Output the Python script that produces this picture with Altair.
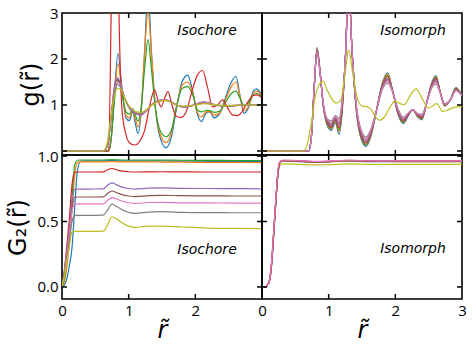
import altair as alt
import pandas as pd

NAMES = ["s1", "s2", "s3", "s4", "s5", "s6", "s7", "s8", "s9"]
COLORS = ["#1f77b4", "#ff7f0e", "#2ca02c", "#d62728", "#9467bd",
          "#8c564b", "#e377c2", "#7f7f7f", "#bcbd22"]

# ---------------- top-left: g(r) along the isochore ----------------
R_TC = [0, 0.70, 0.74, 0.78, 0.84, 0.90, 0.96, 1.01, 1.06, 1.10, 1.14, 1.19, 1.24, 1.29,
        1.34, 1.40, 1.47, 1.56, 1.64, 1.72, 1.80, 1.885, 1.96, 2.03, 2.09, 2.16, 2.22,
        2.28, 2.36, 2.45, 2.54, 2.61, 2.67, 2.73, 2.80, 2.87, 2.92, 3.0]
G_TC_BLUE = [0, 0, 0.3, 1.1, 2.12, 1.35, 0.72, 0.66, 0.85, 0.6, 0.38, 0.9, 2.2, 3.5, 2.2,
             0.95, 0.3, 0.07, 0.3, 0.95, 1.5, 1.65, 1.3, 0.8, 0.64, 0.82, 0.85, 0.72, 0.8,
             1.15, 1.5, 1.62, 1.2, 0.82, 0.95, 1.3, 1.35, 1.2]
G_TC_ORANGE = [0, 0, 0.3, 1.05, 1.9, 1.3, 0.78, 0.72, 0.88, 0.7, 0.52, 0.95, 2.15, 3.05,
               2.15, 0.95, 0.38, 0.18, 0.4, 0.98, 1.42, 1.5, 1.25, 0.85, 0.74, 0.85, 0.86,
               0.78, 0.82, 1.1, 1.4, 1.5, 1.2, 0.88, 0.98, 1.25, 1.3, 1.2]
G_TC_GREEN = [0, 0, 0.3, 1.0, 1.55, 1.25, 0.85, 0.8, 0.92, 0.78, 0.65, 0.98, 1.8, 2.42,
              1.8, 0.95, 0.45, 0.31, 0.45, 0.98, 1.36, 1.40, 1.22, 0.9, 0.85, 0.88, 0.88,
              0.84, 0.86, 1.05, 1.25, 1.3, 1.15, 0.98, 1.05, 1.22, 1.25, 1.18]
R_TC_RED = [0, 0.70, 0.74, 0.78, 0.82, 0.86, 0.90, 0.96, 1.02, 1.09, 1.16, 1.24, 1.31,
            1.39, 1.44, 1.49, 1.54, 1.59, 1.65, 1.71, 1.78, 1.86, 1.95, 2.03, 2.11, 2.18,
            2.26, 2.33, 2.41, 2.48, 2.56, 2.63, 2.70, 2.78, 2.86, 2.93, 3.0]
G_TC_RED = [0, 0, 3.2, 6, 6, 2.6, 0.9, 0.35, 0.17, 0.13, 0.2, 0.45, 0.95, 1.33, 1.1,
            0.96, 1.15, 1.29, 1.0, 0.76, 0.73, 0.85, 1.3, 1.65, 1.75, 1.4, 0.96, 1.0,
            1.11, 0.95, 0.78, 0.77, 0.85, 1.05, 1.2, 1.22, 1.15]
R_TL = [0, 0.62, 0.68, 0.73, 0.78, 0.83, 0.88, 0.94, 1.00, 1.06, 1.12, 1.19, 1.27, 1.36,
        1.45, 1.54, 1.63, 1.72, 1.82, 1.92, 2.02, 2.12, 2.22, 2.34, 2.46, 2.58, 2.70,
        2.82, 2.94, 3.0]
G_TL_PURPLE = [0, 0, 0.1, 0.6, 1.35, 1.6, 1.45, 1.15, 0.95, 0.85, 0.8, 0.78, 0.88, 1.02,
               1.1, 1.12, 1.08, 1.0, 0.95, 0.97, 1.02, 1.07, 1.04, 0.99, 0.97, 0.98, 1.0,
               1.01, 1.0, 1.0]
G_TL_BROWN = [0, 0, 0.12, 0.62, 1.3, 1.55, 1.43, 1.15, 0.96, 0.86, 0.81, 0.8, 0.89, 1.02,
              1.09, 1.11, 1.07, 1.0, 0.96, 0.97, 1.02, 1.06, 1.03, 0.99, 0.97, 0.98, 1.0,
              1.01, 1.0, 1.0]
G_TL_PINK = [0, 0, 0.13, 0.64, 1.27, 1.5, 1.41, 1.15, 0.97, 0.87, 0.82, 0.81, 0.89, 1.02,
             1.09, 1.11, 1.07, 1.0, 0.96, 0.98, 1.02, 1.05, 1.03, 0.99, 0.98, 0.99, 1.0,
             1.01, 1.0, 1.0]
G_TL_GRAY = [0, 0, 0.15, 0.66, 1.22, 1.45, 1.38, 1.15, 0.98, 0.88, 0.83, 0.82, 0.9, 1.02,
             1.08, 1.1, 1.06, 1.0, 0.97, 0.98, 1.01, 1.04, 1.02, 0.99, 0.98, 0.99, 1.0,
             1.0, 1.0, 1.0]
G_TL_OLIVE = [0, 0, 0.18, 0.7, 1.15, 1.36, 1.35, 1.15, 0.99, 0.9, 0.85, 0.84, 0.9, 1.01,
              1.08, 1.1, 1.06, 1.0, 0.97, 0.98, 1.0, 1.03, 1.02, 1.0, 0.98, 0.99, 1.0,
              1.0, 1.0, 1.0]

# ---------------- top-right: g(r) along the isomorph ----------------
R_TM = [0, 0.70, 0.74, 0.78, 0.825, 0.87, 0.92, 0.98, 1.04, 1.10, 1.155, 1.20, 1.25, 1.30,
        1.35, 1.42, 1.49, 1.56, 1.64, 1.72, 1.80, 1.885, 1.96, 2.04, 2.12, 2.20, 2.26,
        2.33, 2.40, 2.47, 2.55, 2.61, 2.67, 2.74, 2.82, 2.91, 3.0]
G_TM_BLUE = [0, 0, 0.3, 1.3, 2.25, 1.75, 0.95, 0.55, 0.45, 0.62, 0.36, 0.8, 2.0, 3.6, 2.2,
             0.8, 0.25, 0.1, 0.35, 0.9, 1.45, 1.7, 1.3, 0.8, 0.6, 0.78, 0.9, 0.75, 0.68,
             1.05, 1.5, 1.64, 1.3, 0.98, 1.1, 1.38, 1.2]
G_TM_ORANGE = [0, 0, 0.3, 1.3, 2.22, 1.75, 0.97, 0.58, 0.48, 0.65, 0.42, 0.85, 2.0, 3.6,
               2.2, 0.82, 0.28, 0.13, 0.38, 0.9, 1.43, 1.67, 1.3, 0.82, 0.62, 0.8, 0.9,
               0.76, 0.7, 1.05, 1.48, 1.62, 1.3, 0.98, 1.1, 1.37, 1.2]
G_TM_GREEN = [0, 0, 0.3, 1.3, 2.2, 1.73, 0.98, 0.6, 0.5, 0.66, 0.46, 0.88, 2.0, 3.6, 2.2,
              0.84, 0.3, 0.14, 0.4, 0.9, 1.42, 1.64, 1.3, 0.83, 0.63, 0.8, 0.9, 0.77,
              0.71, 1.05, 1.47, 1.6, 1.3, 0.99, 1.1, 1.36, 1.2]
G_TM_RED = [0, 0, 0.3, 1.3, 2.2, 1.73, 0.99, 0.62, 0.52, 0.68, 0.5, 0.92, 2.0, 3.6, 2.2,
            0.86, 0.33, 0.17, 0.42, 0.9, 1.4, 1.62, 1.3, 0.84, 0.65, 0.8, 0.9, 0.78,
            0.72, 1.05, 1.46, 1.58, 1.3, 1.0, 1.1, 1.35, 1.2]
G_TM_PURPLE = [0, 0, 0.3, 1.3, 2.18, 1.72, 1.0, 0.64, 0.55, 0.7, 0.55, 0.97, 2.0, 3.6,
               2.2, 0.88, 0.36, 0.2, 0.44, 0.9, 1.38, 1.58, 1.3, 0.86, 0.67, 0.81, 0.9,
               0.79, 0.74, 1.05, 1.44, 1.55, 1.3, 1.0, 1.1, 1.34, 1.2]
G_TM_BROWN = [0, 0, 0.3, 1.3, 2.18, 1.72, 1.01, 0.66, 0.58, 0.72, 0.6, 1.0, 2.0, 3.6,
              2.2, 0.9, 0.39, 0.23, 0.46, 0.9, 1.36, 1.55, 1.29, 0.88, 0.69, 0.82, 0.9,
              0.8, 0.76, 1.05, 1.42, 1.52, 1.29, 1.01, 1.1, 1.33, 1.2]
G_TM_PINK = [0, 0, 0.3, 1.3, 2.16, 1.7, 1.02, 0.68, 0.62, 0.75, 0.66, 1.05, 2.0, 3.6,
             2.2, 0.92, 0.42, 0.27, 0.48, 0.9, 1.34, 1.52, 1.28, 0.9, 0.71, 0.83, 0.9,
             0.81, 0.78, 1.05, 1.4, 1.5, 1.28, 1.02, 1.1, 1.32, 1.2]
G_TM_GRAY = [0, 0, 0.3, 1.3, 2.16, 1.7, 1.03, 0.7, 0.65, 0.77, 0.7, 1.08, 2.0, 3.6, 2.2,
             0.94, 0.45, 0.3, 0.5, 0.9, 1.32, 1.48, 1.27, 0.92, 0.73, 0.84, 0.9, 0.82,
             0.8, 1.05, 1.38, 1.46, 1.27, 1.03, 1.1, 1.31, 1.2]
R_TM_OLIVE = [0, 0.62, 0.68, 0.74, 0.80, 0.86, 0.915, 0.97, 1.04, 1.11, 1.18, 1.24, 1.30,
              1.36, 1.43, 1.50, 1.58, 1.64, 1.70, 1.77, 1.84, 1.92, 1.99, 2.06, 2.13,
              2.22, 2.31, 2.40, 2.50, 2.56, 2.62, 2.71, 2.80, 2.88, 3.0]
G_TM_OLIVE = [0, 0, 0.15, 0.6, 1.2, 1.45, 1.52, 1.35, 1.15, 1.04, 1.1, 1.6, 2.2, 1.7,
              1.15, 0.98, 0.96, 0.9, 0.75, 0.67, 0.75, 0.95, 1.08, 1.04, 1.0, 1.2, 1.35,
              1.15, 0.93, 0.98, 1.03, 0.86, 0.9, 0.95, 0.97]

# ---------------- bottom-left: G2(r) along the isochore ----------------
R_BC = [0, 0.03, 0.07, 0.11, 0.15, 0.19, 0.23, 0.28, 0.4, 0.62, 0.68, 0.75, 0.82, 0.9,
        1.0, 1.1, 1.3, 1.5, 1.8, 2.2, 2.6, 3.0]
G2_BC_BLUE = [0, 0.01, 0.06, 0.16, 0.3, 0.6, 0.88, 0.962, 0.963, 0.963, 0.964, 0.965,
              0.964, 0.963, 0.963, 0.963, 0.963, 0.962, 0.961, 0.96, 0.959, 0.958]
G2_BC_ORANGE = [0, 0.03, 0.14, 0.34, 0.58, 0.85, 0.95, 0.955, 0.955, 0.955, 0.956, 0.957,
                0.956, 0.955, 0.955, 0.955, 0.955, 0.954, 0.953, 0.952, 0.951, 0.95]
G2_BC_GREEN = [0, 0.05, 0.2, 0.42, 0.68, 0.93, 0.968, 0.97, 0.97, 0.97, 0.971, 0.972,
               0.971, 0.97, 0.97, 0.97, 0.97, 0.969, 0.968, 0.967, 0.966, 0.965]
G2_BC_RED = [0, 0.1, 0.3, 0.52, 0.78, 0.875, 0.878, 0.878, 0.878, 0.879, 0.895, 0.905,
             0.895, 0.885, 0.88, 0.878, 0.879, 0.88, 0.879, 0.878, 0.878, 0.878]
G2_BC_PURPLE = [0, 0.1, 0.27, 0.45, 0.65, 0.745, 0.748, 0.748, 0.748, 0.749, 0.775, 0.795,
                0.78, 0.763, 0.752, 0.748, 0.755, 0.757, 0.753, 0.752, 0.751, 0.75]
G2_BC_BROWN = [0, 0.09, 0.25, 0.42, 0.6, 0.685, 0.687, 0.687, 0.687, 0.688, 0.712, 0.733,
               0.72, 0.705, 0.695, 0.69, 0.697, 0.7, 0.697, 0.696, 0.695, 0.695]
G2_BC_PINK = [0, 0.09, 0.24, 0.4, 0.58, 0.632, 0.634, 0.634, 0.634, 0.635, 0.66, 0.683,
              0.672, 0.655, 0.643, 0.638, 0.645, 0.646, 0.643, 0.642, 0.641, 0.64]
G2_BC_GRAY = [0, 0.08, 0.21, 0.35, 0.5, 0.545, 0.547, 0.547, 0.547, 0.548, 0.585, 0.632,
              0.615, 0.59, 0.57, 0.562, 0.572, 0.575, 0.57, 0.568, 0.567, 0.567]
G2_BC_OLIVE = [0, 0.07, 0.19, 0.31, 0.42, 0.425, 0.425, 0.425, 0.425, 0.427, 0.47, 0.535,
               0.52, 0.49, 0.465, 0.455, 0.465, 0.465, 0.458, 0.45, 0.447, 0.445]

# ---------------- bottom-right: G2(r) along the isomorph ----------------
R_BM = [0, 0.05, 0.09, 0.12, 0.15, 0.18, 0.21, 0.24, 0.27, 0.32, 0.5, 0.8, 1.0, 1.3, 1.6,
        2.0, 2.5, 3.0]
G2_BM_BLUE = [0, 0, 0.02, 0.06, 0.2, 0.43, 0.66, 0.86, 0.95, 0.962, 0.96, 0.952, 0.955,
              0.962, 0.958, 0.957, 0.957, 0.957]
G2_BM_ORANGE = [0, 0, 0.02, 0.06, 0.21, 0.44, 0.67, 0.87, 0.952, 0.963, 0.961, 0.953,
                0.956, 0.963, 0.959, 0.958, 0.958, 0.958]
G2_BM_GREEN = [0, 0, 0.02, 0.07, 0.21, 0.44, 0.67, 0.87, 0.953, 0.964, 0.962, 0.954,
               0.957, 0.964, 0.96, 0.959, 0.959, 0.959]
G2_BM_RED = [0, 0, 0.02, 0.07, 0.22, 0.45, 0.68, 0.88, 0.956, 0.967, 0.965, 0.958, 0.96,
             0.967, 0.963, 0.962, 0.962, 0.962]
G2_BM_PURPLE = [0, 0, 0.02, 0.07, 0.22, 0.45, 0.68, 0.88, 0.956, 0.966, 0.964, 0.957,
                0.959, 0.966, 0.962, 0.961, 0.961, 0.961]
G2_BM_BROWN = [0, 0, 0.02, 0.07, 0.22, 0.45, 0.68, 0.88, 0.955, 0.965, 0.963, 0.956,
               0.958, 0.965, 0.961, 0.96, 0.96, 0.96]
G2_BM_PINK = [0, 0, 0.02, 0.07, 0.23, 0.46, 0.69, 0.89, 0.958, 0.968, 0.966, 0.959,
              0.961, 0.968, 0.964, 0.963, 0.963, 0.963]
G2_BM_GRAY = [0, 0, 0.02, 0.07, 0.22, 0.45, 0.68, 0.88, 0.955, 0.965, 0.963, 0.956,
              0.958, 0.965, 0.961, 0.96, 0.96, 0.96]
G2_BM_OLIVE = [0, 0, 0.03, 0.08, 0.23, 0.46, 0.68, 0.86, 0.93, 0.94, 0.938, 0.932,
               0.934, 0.94, 0.937, 0.936, 0.936, 0.936]

XTICKS = [1, 2]
TOP_YTICKS = [0, 1, 2]
BOT_YTICKS = [0, 0.5, 1.0]
TOP_YLABELS = [1, 2, 3]
BOT_YLABELS = [0, 0.5, 1.0]
LEFT_XLABELS = [0, 1, 2]
RIGHT_XLABELS = [0, 1, 2, 3]


def frame(series):
    rows = []
    for name, rs, vs in series:
        for r, v in zip(rs, vs):
            rows.append({"r": r, "v": v, "s": name})
    return pd.DataFrame(rows)


TL = frame([("s1", R_TC, G_TC_BLUE), ("s2", R_TC, G_TC_ORANGE), ("s3", R_TC, G_TC_GREEN),
            ("s4", R_TC_RED, G_TC_RED), ("s5", R_TL, G_TL_PURPLE), ("s6", R_TL, G_TL_BROWN),
            ("s7", R_TL, G_TL_PINK), ("s8", R_TL, G_TL_GRAY), ("s9", R_TL, G_TL_OLIVE)])
TR = frame([("s1", R_TM, G_TM_BLUE), ("s2", R_TM, G_TM_ORANGE), ("s3", R_TM, G_TM_GREEN),
            ("s4", R_TM, G_TM_RED), ("s5", R_TM, G_TM_PURPLE), ("s6", R_TM, G_TM_BROWN),
            ("s8", R_TM, G_TM_GRAY), ("s7", R_TM, G_TM_PINK), ("s9", R_TM_OLIVE, G_TM_OLIVE)])
BL = frame([("s1", R_BC, G2_BC_BLUE), ("s2", R_BC, G2_BC_ORANGE), ("s3", R_BC, G2_BC_GREEN),
            ("s4", R_BC, G2_BC_RED), ("s5", R_BC, G2_BC_PURPLE), ("s6", R_BC, G2_BC_BROWN),
            ("s7", R_BC, G2_BC_PINK), ("s8", R_BC, G2_BC_GRAY), ("s9", R_BC, G2_BC_OLIVE)])
BR = frame([("s9", R_BM, G2_BM_OLIVE), ("s1", R_BM, G2_BM_BLUE), ("s2", R_BM, G2_BM_ORANGE),
            ("s3", R_BM, G2_BM_GREEN), ("s5", R_BM, G2_BM_PURPLE), ("s6", R_BM, G2_BM_BROWN),
            ("s8", R_BM, G2_BM_GRAY), ("s4", R_BM, G2_BM_RED), ("s7", R_BM, G2_BM_PINK)])

W = 200
LABEL_FONT = "Open Sans"


def panel(df, H, ydom, yticks, xaxis, yaxis, label, lx, ly):
    xs = alt.Scale(domain=[0, 3], nice=False, zero=False)
    ys = alt.Scale(domain=ydom, nice=False, zero=False)
    xenc = alt.X("r:Q", scale=xs, axis=xaxis) if xaxis is not None else alt.X("r:Q", scale=xs, axis=None)
    yenc = alt.Y("v:Q", scale=ys, axis=yaxis) if yaxis is not None else alt.Y("v:Q", scale=ys, axis=None)
    lines = alt.Chart(df).mark_line(clip=True, strokeWidth=1.2, interpolate="monotone").encode(
        x=xenc, y=yenc,
        color=alt.Color("s:N", scale=alt.Scale(domain=NAMES, range=COLORS), legend=None),
    )
    xt = pd.DataFrame({"r": XTICKS})
    yt = pd.DataFrame({"v": yticks})
    tick = dict(color="black", strokeWidth=1.5)
    t1 = alt.Chart(xt).mark_rule(**tick).encode(x=xenc, y=alt.value(0), y2=alt.value(5))
    t2 = alt.Chart(xt).mark_rule(**tick).encode(x=xenc, y=alt.value(H - 5), y2=alt.value(H))
    t3 = alt.Chart(yt).mark_rule(**tick).encode(y=yenc, x=alt.value(0), x2=alt.value(5))
    t4 = alt.Chart(yt).mark_rule(**tick).encode(y=yenc, x=alt.value(W - 5), x2=alt.value(W))
    txt = alt.Chart(pd.DataFrame({"t": [label]})).mark_text(
        font="DejaVu Sans", fontStyle="italic", fontSize=14, align="center",
        baseline="middle", color="black").encode(
        x=alt.value(lx), y=alt.value(ly), text="t:N")
    return alt.layer(lines, t1, t2, t3, t4, txt).properties(width=W, height=H)


def xaxis(vals):
    return alt.Axis(values=vals, ticks=False, domain=False, grid=False, labelFlush=False,
                    title="r\u0303", titleFont="DejaVu Sans", titleFontSize=24,
                    titleFontStyle="italic", titleFontWeight="normal", titleColor="black",
                    labelFont=LABEL_FONT, labelFontSize=15, labelColor="black",
                    labelPadding=4, titlePadding=0)


def yaxis(vals, title, fmt):
    return alt.Axis(values=vals, format=fmt, ticks=False, domain=False, grid=False,
                    title=title, titleFont="DejaVu Sans", titleFontSize=24,
                    titleFontWeight="normal", titleColor="black",
                    labelFont=LABEL_FONT, labelFontSize=15, labelColor="black",
                    labelPadding=4, titlePadding=6)


TOP_H = 142
BOT_H = 144
tl = panel(TL, TOP_H, [-0.087, 3], TOP_YTICKS, None,
           yaxis(TOP_YLABELS, "g(r\u0303)", "d"), "Isochore", 145, 18)
tr = panel(TR, TOP_H, [-0.087, 3], TOP_YTICKS, None, None, "Isomorph", 151, 18)
bl = panel(BL, BOT_H, [-0.092, 1.008], BOT_YTICKS, xaxis(LEFT_XLABELS),
           yaxis(BOT_YLABELS, "G\u2082(r\u0303)", ".1f"), "Isochore", 145, 95)
br = panel(BR, BOT_H, [-0.092, 1.008], BOT_YTICKS, xaxis(RIGHT_XLABELS), None,
           "Isomorph", 151, 94)

chart = alt.concat(tl, tr, bl, br, columns=2, spacing=0, bounds="flush").properties(
    padding={"left": 6, "top": 5, "right": 5, "bottom": 0}
).configure_view(stroke="black", strokeWidth=1.6)

chart.save("out.html", embed_options={"renderer": "svg", "actions": False})
